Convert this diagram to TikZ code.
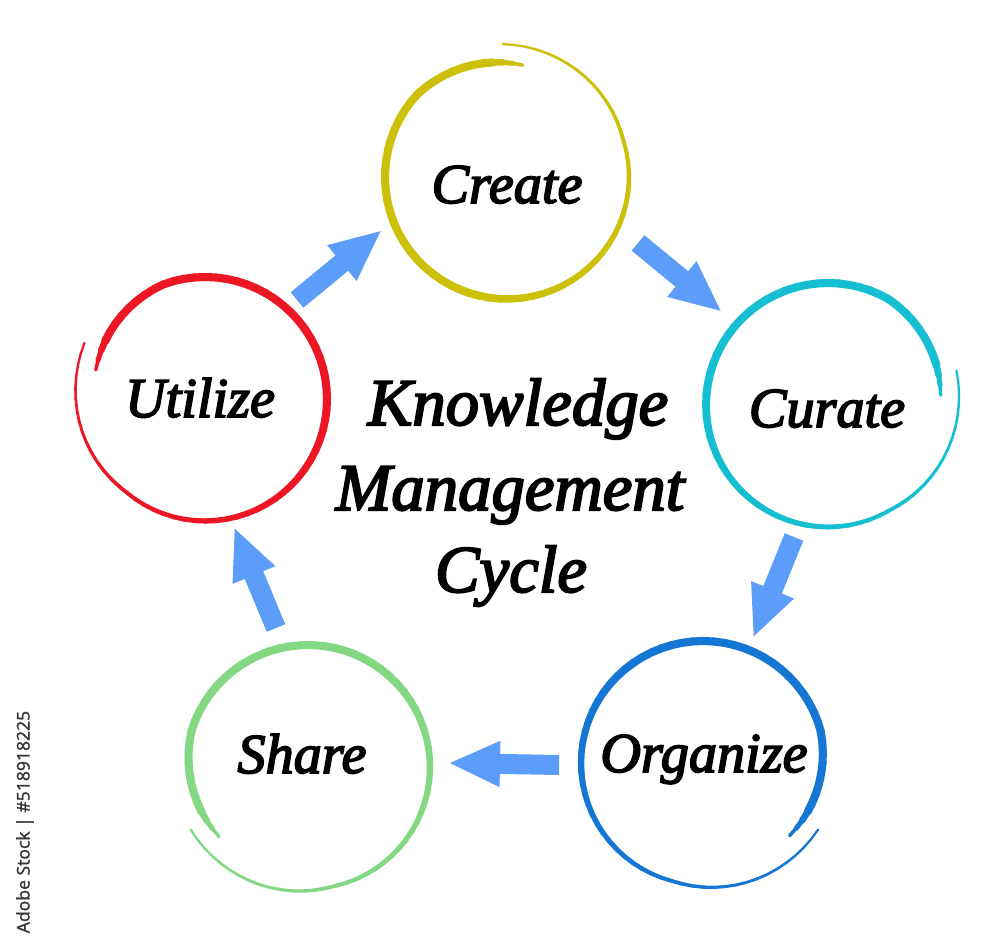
\documentclass[tikz,border=0pt]{standalone}
\usepackage{fontspec}
\setmainfont{Liberation Serif}
\newfontfamily\kmfont[FakeBold=3]{Liberation Serif Italic}
\newfontfamily\wmfont[FakeBold=1.5]{Open Sans}
\usetikzlibrary{arrows.meta}

\definecolor{arrowblue}{RGB}{92,157,250}
\definecolor{cCreate}{RGB}{204,192,10}
\definecolor{cCurate}{RGB}{22,190,210}
\definecolor{cOrganize}{RGB}{22,118,212}
\definecolor{cShare}{RGB}{132,216,132}
\definecolor{cUtilize}{RGB}{236,22,36}

\newcommand\brushcircle[4]{% #1 centre name, #2 start angle, #3 direction, #4 colour
  \foreach \bci in {0,...,73}{%
    \pgfmathsetmacro\bcSa{\bci/74}%
    \pgfmathsetmacro\bcSb{(\bci+1)/74}%
    \pgfmathsetmacro\bcTa{#2+#3*370*\bcSa}%
    \pgfmathsetmacro\bcTb{#2+#3*370*\bcSb}%
    \pgfmathsetmacro\bcRa{1.22-0.09*max(0,1-\bcSa/0.15)+0.11*max(0,(\bcSa-0.8)/0.2)}%
    \pgfmathsetmacro\bcRb{1.22-0.09*max(0,1-\bcSb/0.15)+0.11*max(0,(\bcSb-0.8)/0.2)}%
    \pgfmathsetmacro\bcW{\bcSa<0.04 ? 1.0+1.3*\bcSa/0.04 : (\bcSa<0.45 ? 2.3 : (\bcSa<0.85 ? 2.3-1.4*(\bcSa-0.45)/0.4 : 0.9-0.3*(\bcSa-0.85)/0.15))}%
    \draw[#4, line width=\bcW pt, line cap=round, shift={(#1)}]
      (\bcTa:\bcRa) -- (\bcTb:\bcRb);
  }%
}

\tikzset{
  label/.style={font=\kmfont\fontsize{16}{19}\selectfont, text=black, anchor=base, inner sep=0pt},
  title/.style={font=\kmfont\fontsize{19}{23}\selectfont, text=black, anchor=base, inner sep=0pt},
  flow/.style={draw=arrowblue, line width=0.2cm, line cap=butt,
    -{Triangle[width=0.42cm,length=0.52cm]}},
}

\begin{document}
\begin{tikzpicture}[x=1cm,y=1cm]
\useasboundingbox (0,0) rectangle (10,9.47);
\fill[white] (0,0) rectangle (10,9.47);

% circle centres
\coordinate (cc) at (5.07,7.70);
\coordinate (cu) at (8.28,5.42);
\coordinate (co) at (7.03,1.84);
\coordinate (cs) at (3.08,1.80);
\coordinate (cz) at (2.05,5.48);

\brushcircle{cc}{82}{1}{cCreate}
\brushcircle{cu}{5}{1}{cCurate}
\brushcircle{co}{-40}{1}{cOrganize}
\brushcircle{cs}{218}{-1}{cShare}
\brushcircle{cz}{165}{-1}{cUtilize}

% labels
\node[label] (create) at (5.07,7.44) {Create};
\node[label] (curate) at (8.27,5.20) {Curate};
\node[label] (organize) at (7.04,1.75) {Organize};
\node[label] (share) at (3.02,1.74) {Share};
\node[label] (utilize) at (2.00,5.30) {Utilize};

% title
\node[title] (t1) at (5.18,5.22) {Knowledge};
\node[title] (t2) at (5.10,4.37) {Management};
\node[title] (t3) at (5.11,3.55) {Cycle};

% arrow end points
\coordinate (a1s) at (2.97,6.47); \coordinate (a1e) at (3.82,7.17);
\coordinate (a2s) at (6.38,7.04); \coordinate (a2e) at (7.22,6.35);
\coordinate (a3s) at (7.94,4.10); \coordinate (a3e) at (7.53,3.09);
\coordinate (a4s) at (5.59,1.82); \coordinate (a4e) at (4.48,1.84);
\coordinate (a5s) at (2.76,3.19); \coordinate (a5e) at (2.34,4.20);

\draw[flow] (a1s) -- (a1e);
\draw[flow] (a2s) -- (a2e);
\draw[flow] (a3s) -- (a3e);
\draw[flow] (a4s) -- (a4e);
\draw[flow] (a5s) -- (a5e);

% watermark
\node[rotate=90, font=\wmfont\fontsize{5.0}{6}\selectfont, text={rgb,255:red,55;green,55;blue,55}, inner sep=0pt] (wm) at (0.25,1.25) {Adobe Stock | \#518918225};
\end{tikzpicture}
\end{document}
